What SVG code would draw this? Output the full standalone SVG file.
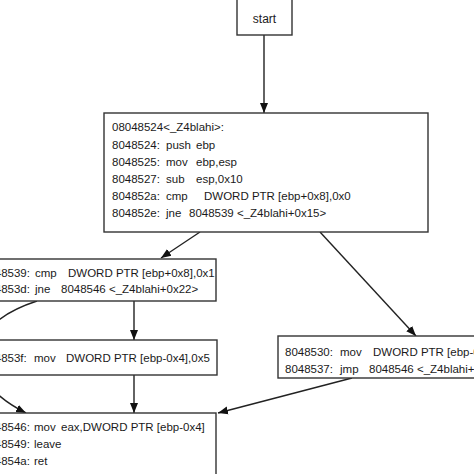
<svg xmlns="http://www.w3.org/2000/svg" width="474" height="474" viewBox="0 0 474 474">
<style>
.box{fill:#fff;stroke:#333;stroke-width:1.4}
.t{font-family:"Liberation Sans",Arial,sans-serif;font-size:11.5px;fill:#1a1a1a}
.e{fill:none;stroke:#222;stroke-width:1.4}
</style>
<defs>
<marker id="ah" viewBox="0 0 10 10" refX="10" refY="5" markerWidth="10" markerHeight="10" markerUnits="userSpaceOnUse" orient="auto">
<path d="M0,1 L10,5 L0,9 Z" fill="#111"/>
</marker>
</defs>
<rect width="474" height="474" fill="#fff"/>
<g id="edges">
<path class="e" d="M264,35 L264,113" marker-end="url(#ah)"/>
<path class="e" d="M200,232 L161,258" marker-end="url(#ah)"/>
<path class="e" d="M320,232 L416,336" marker-end="url(#ah)"/>
<path class="e" d="M134,301 L134,340" marker-end="url(#ah)"/>
<path class="e" d="M37,301 C-40,326 -40,380 26,413" marker-end="url(#ah)"/>
<path class="e" d="M134,375 L134,413" marker-end="url(#ah)"/>
<path class="e" d="M352,378 L218,413" marker-end="url(#ah)"/>
</g>
<g id="start">
<rect class="box" x="237" y="-10" width="55" height="45"/>
<text class="t" x="264.5" y="23" text-anchor="middle" style="font-size:12px">start</text>
</g>
<g id="main">
<rect class="box" x="104" y="113" width="324" height="119"/>
<text class="t" x="112" y="131">08048524&lt;_Z4blahi&gt;:</text>
<text class="t" y="149"><tspan x="112">8048524:</tspan><tspan x="166">push</tspan><tspan x="196">ebp</tspan></text>
<text class="t" y="166"><tspan x="112">8048525:</tspan><tspan x="166">mov</tspan><tspan x="196">ebp,esp</tspan></text>
<text class="t" y="183"><tspan x="112">8048527:</tspan><tspan x="166">sub</tspan><tspan x="196">esp,0x10</tspan></text>
<text class="t" y="200"><tspan x="112">804852a:</tspan><tspan x="166">cmp</tspan><tspan x="204">DWORD PTR [ebp+0x8],0x0</tspan></text>
<text class="t" y="217"><tspan x="112">804852e:</tspan><tspan x="166">jne</tspan><tspan x="189">8048539 &lt;_Z4blahi+0x15&gt;</tspan></text>
</g>
<g id="b8539">
<rect class="box" x="-40" y="259" width="256" height="42"/>
<text class="t" y="277"><tspan x="-18">8048539:</tspan><tspan x="35">cmp</tspan><tspan x="68">DWORD PTR [ebp+0x8],0x1</tspan></text>
<text class="t" y="293"><tspan x="-18">804853d:</tspan><tspan x="35">jne</tspan><tspan x="61">8048546 &lt;_Z4blahi+0x22&gt;</tspan></text>
</g>
<g id="b853f">
<rect class="box" x="-40" y="340" width="257" height="35"/>
<text class="t" y="362"><tspan x="-18">804853f:</tspan><tspan x="34">mov</tspan><tspan x="66">DWORD PTR [ebp-0x4],0x5</tspan></text>
</g>
<g id="b8530">
<rect class="box" x="278" y="336" width="240" height="42"/>
<text class="t" y="356"><tspan x="285">8048530:</tspan><tspan x="340">mov</tspan><tspan x="373">DWORD PTR [ebp-0x4],0x0</tspan></text>
<text class="t" y="373"><tspan x="285">8048537:</tspan><tspan x="340">jmp</tspan><tspan x="369">8048546 &lt;_Z4blahi+0x22&gt;</tspan></text>
</g>
<g id="b8546">
<rect class="box" x="-40" y="413" width="256" height="80"/>
<text class="t" y="431"><tspan x="-18">8048546:</tspan><tspan x="34">mov</tspan><tspan x="61">eax,DWORD PTR [ebp-0x4]</tspan></text>
<text class="t" y="448"><tspan x="-18">8048549:</tspan><tspan x="34">leave</tspan></text>
<text class="t" y="465"><tspan x="-18">804854a:</tspan><tspan x="34">ret</tspan></text>
</g>
</svg>
